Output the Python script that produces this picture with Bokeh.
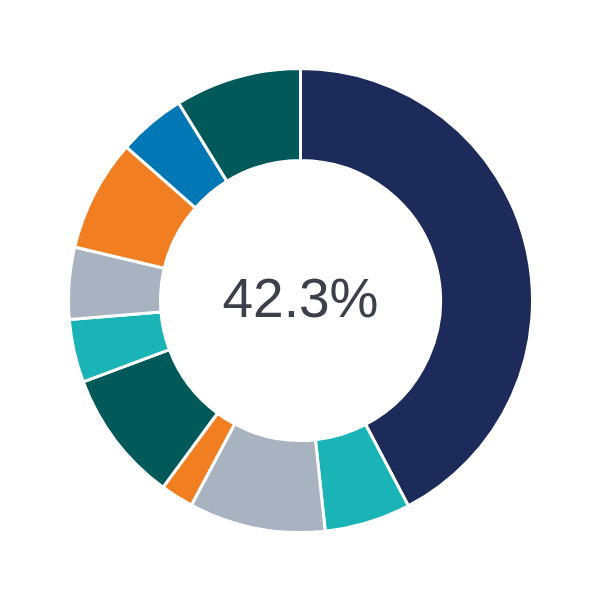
import numpy as np
from bokeh.plotting import figure
from bokeh.models import ColumnDataSource
from bokeh.core.properties import value
from bokeh.embed import file_html
from bokeh.resources import INLINE

# slice shares (percent), clockwise from 12 o'clock
shares = [42.3, 6.0, 9.5, 2.3, 9.2, 4.4, 5.0, 7.8, 4.7, 8.8]
colors = ["#1c2b5a", "#1bb4b6", "#a9b2c0", "#f17e21", "#02595a",
          "#1bb4b6", "#a9b2c0", "#f17e21", "#0277b5", "#02595a"]
center_label = "42.3%"

# clockwise angles from top, converted to bokeh's ccw-from-x convention
frac = np.array(shares) / sum(shares)
cum_end = np.cumsum(frac) * 2 * np.pi
cum_start = cum_end - frac * 2 * np.pi
source = ColumnDataSource(data=dict(
    start=np.pi / 2 - cum_start,
    end=np.pi / 2 - cum_end,
    color=colors,
    share=shares,
))

# ranges offset so the ring sits in the middle of the window
p = figure(width=584, height=584, x_range=(-300, 284), y_range=(-284, 300),
           output_backend="svg", toolbar_location=None, min_border=0)
p.annular_wedge(x=0, y=0, inner_radius=140, outer_radius=232,
                start_angle="start", end_angle="end", direction="clock",
                fill_color="color", line_color="white", line_width=3,
                source=source)
p.text(x=[0], y=[3], text=[center_label], text_align="center",
       text_baseline="middle", text_font=value("Liberation Sans"),
       text_font_size="55px", text_color="#3b404b")

p.axis.visible = False
p.grid.visible = False
p.outline_line_color = None
p.background_fill_color = "white"
p.border_fill_color = "white"

open("out.html", "w").write(file_html(p, INLINE))
